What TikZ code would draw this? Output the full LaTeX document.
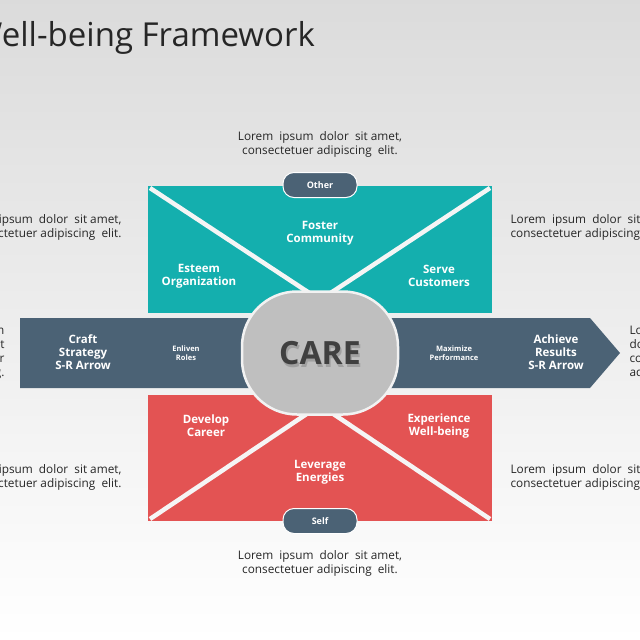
\documentclass[tikz,border=0pt]{standalone}
\usepackage{fontspec}
\setmainfont{Open Sans}
\definecolor{teal1}{HTML}{14AFAE}
\definecolor{red1}{HTML}{E35353}
\definecolor{slate}{HTML}{4B6275}
\definecolor{txt}{HTML}{262626}
\begin{document}
\begin{tikzpicture}[x=1pt,y=-1pt,
  lab/.style={text=white,font=\bfseries\fontsize{11.5}{13}\selectfont,align=center},
  small/.style={text=white,font=\bfseries\fontsize{7.5}{8.5}\selectfont,align=center},
  lorem/.style={text=txt,font=\fontsize{11.8}{14}\selectfont},
  pill/.style={fill=slate,rounded corners=11pt,minimum width=74pt,minimum height=25pt,text=white,font=\bfseries\fontsize{9}{10}\selectfont,draw=white,line width=1pt},
  diag/.style={draw=white!92!gray,line width=4.5pt}]
\useasboundingbox (0,0) rectangle (640,640);
\clip (0,0) rectangle (640,640);
\shade[top color=gray!28,bottom color=white] (0,0) rectangle (640,640);
\node[anchor=south east,font=\fontsize{33}{35}\selectfont,text=txt,inner sep=0] (title) at (315,55) {Well-being Framework};
% boxes
\fill[teal1] (148,186) rectangle (492,313);
\fill[red1] (148,395) rectangle (492,521);
\draw[diag] (150,188) -- (320,300);
\draw[diag] (490,188) -- (320,300);
\draw[diag] (150,519) -- (320,405);
\draw[diag] (490,519) -- (320,405);
% arrow band
\fill[slate] (20,318) -- (590,318) -- (620,353) -- (590,388) -- (20,388) -- cycle;
% center
\node[draw=white!90!gray,line width=2.5pt,fill=gray!50,rounded corners=55pt,minimum width=156pt,minimum height=123pt,inner sep=0] (care) at (320,353) {};
\node[font=\bfseries\fontsize{32}{34}\selectfont,text=black!45,opacity=0.6] (careshadow) at (321.5,356) {CARE};
\node[font=\bfseries\fontsize{32}{34}\selectfont,text=black!75] (caretxt) at (320,353) {CARE};
% pills
\node[pill] (other) at (320,185) {Other};
\node[pill] (self) at (320,521) {Self};
% labels
\node[lab] (l1) at (320,233) {Foster\\Community};
\node[lab] (l2) at (199,276) {Esteem\\Organization};
\node[lab] (l3) at (439,276) {Serve\\Customers};
\node[lab] (l4) at (206,426) {Develop\\Career};
\node[lab] (l5) at (439,426) {Experience\\Well-being};
\node[lab] (l6) at (320,472) {Leverage\\Energies};
\node[lab] (l7) at (83,352) {Craft\\Strategy\\S-R Arrow};
\node[lab] (l8) at (556,352) {Achieve\\Results\\S-R Arrow};
\node[small] (l9) at (186,353) {Enliven\\Roles};
\node[small] (l10) at (454,353) {Maximize\\Performance};
% lorem texts
\node[lorem,align=center] (t1) at (320,144) {Lorem\ \ ipsum\ \ dolor\ \ sit amet,\\consectetuer\ adipiscing\ \ elit.};
\node[lorem,align=center] (t2) at (320,563) {Lorem\ \ ipsum\ \ dolor\ \ sit amet,\\consectetuer\ adipiscing\ \ elit.};
\node[lorem,align=right,anchor=east] (t3) at (125,227) {Lorem\ \ ipsum\ \ dolor\ \ sit amet,\\consectetuer\ adipiscing\ \ elit.};
\node[lorem,align=right,anchor=east] (t4) at (125,477) {Lorem\ \ ipsum\ \ dolor\ \ sit amet,\\consectetuer\ adipiscing\ \ elit.};
\node[lorem,align=left,anchor=west] (t5) at (507,227) {Lorem\ \ ipsum\ \ dolor\ \ sit amet,\\consectetuer\ adipiscing\ \ elit.};
\node[lorem,align=left,anchor=west] (t6) at (507,477) {Lorem\ \ ipsum\ \ dolor\ \ sit amet,\\consectetuer\ adipiscing\ \ elit.};
\node[lorem,align=right,anchor=east] (t7) at (8,353) {Lorem\\dolor sit\\consectetur\\adipiscing.};
\node[lorem,align=left,anchor=west] (t8) at (626,353) {Lorem\\dolor sit\\consectetuer\\adipiscing};
\end{tikzpicture}
\end{document}
